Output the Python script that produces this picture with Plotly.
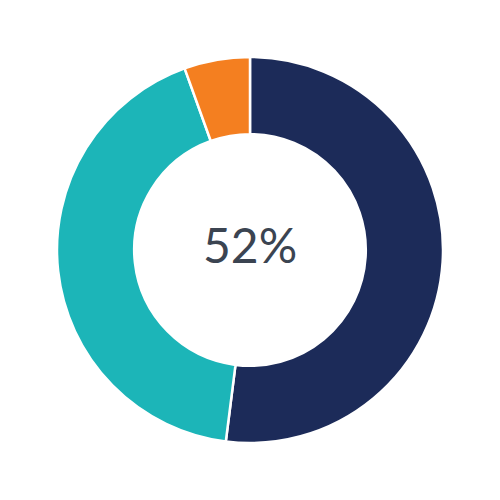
import plotly.graph_objects as go

labels = ["A", "B", "C"]
values = [52, 42.5, 5.5]
colors = ["#1c2b59", "#1cb5b8", "#f47f20"]
center_text = "52%"

fig = go.Figure(go.Pie(
    labels=labels,
    values=values,
    hole=0.6,
    sort=False,
    direction="clockwise",
    rotation=0,
    marker=dict(colors=colors, line=dict(color="white", width=2.5)),
    textinfo="none",
    hoverinfo="label+percent",
))

fig.add_annotation(
    text=center_text, x=0.5, y=0.5, xref="paper", yref="paper",
    showarrow=False, yshift=6,
    font=dict(family="Lato", size=48, color="#3b4451"),
)

# page body adds ~8px offset, so margins are skewed to keep the ring centred
fig.update_layout(
    width=500, height=500,
    margin=dict(l=49, r=65, t=49, b=65),
    showlegend=False,
    paper_bgcolor="white",
)

fig.write_html("out.html")
